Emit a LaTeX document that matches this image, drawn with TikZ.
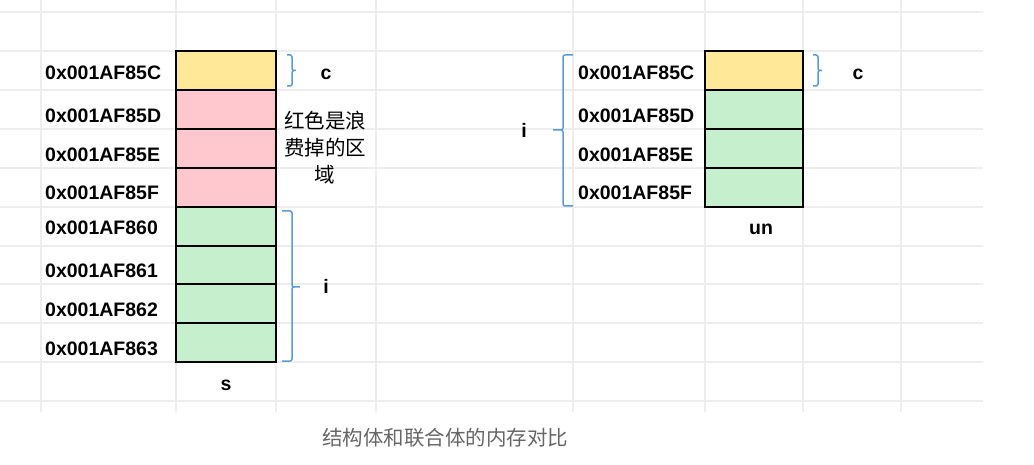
\documentclass[tikz,border=0pt]{standalone}
\usepackage{fontspec}
\setmainfont{Liberation Sans}
\newfontfamily\cjk{Noto Sans CJK SC}
\begin{document}
\begin{tikzpicture}[x=1pt,y=-1pt,
  grid/.style={draw=black!7,line width=1.2pt},
  cell/.style={draw=black,line width=1.2pt},
  addr/.style={anchor=west,font=\fontsize{19.5}{22}\selectfont,inner sep=0pt},
  lbl/.style={font=\fontsize{19.5}{22}\selectfont\bfseries,inner sep=0pt},
  br/.style={draw=Bc,line width=1.5pt,rounded corners=2pt}]
\definecolor{Yc}{HTML}{FFE999}
\definecolor{Rc}{HTML}{FFC7CE}
\definecolor{Gc}{HTML}{C6EFCE}
\definecolor{Bc}{HTML}{5B9BD5}
\useasboundingbox (0,0) rectangle (1034,465);
\foreach \y in {12,51,90,129,168,207,246,284,323,362,401}
  \draw[grid] (0,\y) -- (983,\y);
\foreach \x in {41,176,276,376,573,705,803,901}
  \draw[grid] (\x,0) -- (\x,412);
% left cells
\draw[cell,fill=Yc] (176,51) rectangle (276,90);
\foreach \y in {90,129,168} \draw[cell,fill=Rc] (176,\y) rectangle (276,\y+39);
\foreach \y in {207,246,284,323} \draw[cell,fill=Gc] (176,\y) rectangle (276,\y+39);
\draw[cell] (176,51) rectangle (276,362);
% right cells
\draw[cell,fill=Yc] (705,51) rectangle (803,90);
\foreach \y in {90,129,168} \draw[cell,fill=Gc] (705,\y) rectangle (803,\y+39);
\draw[cell] (705,51) rectangle (803,207);
% addresses
\foreach \t/\y in {0x001AF85C/73,0x001AF85D/116,0x001AF85E/155,0x001AF85F/193,0x001AF860/228,0x001AF861/271,0x001AF862/310,0x001AF863/349}
  \node[addr] at (45,\y) {\textbf{\t}};
\foreach \t/\y in {0x001AF85C/73,0x001AF85D/116,0x001AF85E/155,0x001AF85F/193}
  \node[addr] at (578,\y) {\textbf{\t}};
% braces
\draw[br] (287,55) -- (292,55) -- (292,70.5) -- (297,70.5) -- (292,70.5) -- (292,86) -- (287,86);
\draw[br] (282,211) -- (292,211) -- (292,287) -- (301,287) -- (292,287) -- (292,361) -- (282,361);
\draw[br] (573,55) -- (563,55) -- (563,130) -- (552,130) -- (563,130) -- (563,206) -- (573,206);
\draw[br] (813,55) -- (818,55) -- (818,70.5) -- (823,70.5) -- (818,70.5) -- (818,86) -- (813,86);
\node[lbl] (c1) at (326,74) {c};
\node[lbl] (i1) at (326,286) {i};
\node[lbl] (s) at (226,385) {s};
\node[font=\cjk\fontsize{20.5}{27}\selectfont,align=center,inner sep=0pt] (w) at (325,148) {红色是浪\\费掉的区\\域};
\node[lbl] (un) at (761,229) {un};
\node[lbl] (i2) at (524,130) {i};
\node[lbl] (c2) at (858,74) {c};
\node[font=\cjk\fontsize{20.5}{22}\selectfont,text=black!60,inner sep=0pt] (cap) at (445,438) {结构体和联合体的内存对比};
\end{tikzpicture}
\end{document}
